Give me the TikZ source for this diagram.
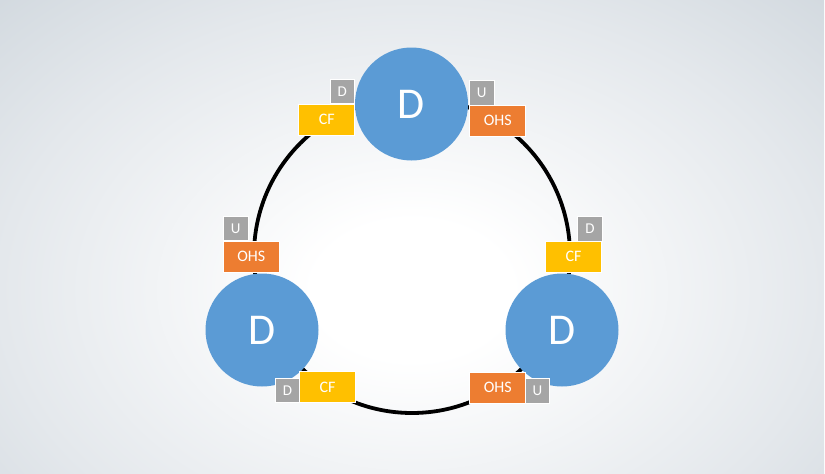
\documentclass[tikz,border=0pt]{standalone}
\usepackage{fontspec}
\setmainfont{Carlito}
\definecolor{cblue}{RGB}{91,155,213}
\definecolor{corange}{RGB}{237,125,49}
\definecolor{cyellow}{RGB}{255,192,0}
\definecolor{cgray}{RGB}{165,165,165}
\definecolor{bgmid}{RGB}{228,232,236}
\definecolor{bgedge}{RGB}{210,217,223}
\pgfdeclareradialshading{bgrad}{\pgfpoint{0bp}{0bp}}{color(0bp)=(white); color(6bp)=(white); color(25bp)=(bgmid); color(36bp)=(bgedge); color(50bp)=(bgedge)}
\tikzset{
  dnode/.style={circle, fill=cblue, minimum size=113pt, inner sep=0pt, text=white, font=\fontsize{44}{44}\selectfont},
  bigbox/.style={rectangle, draw=white, line width=1pt, minimum width=56pt, minimum height=31pt, inner sep=0pt, text=white, font=\fontsize{16}{16}\selectfont},
  cfbox/.style={bigbox, fill=cyellow},
  ohsbox/.style={bigbox, fill=corange},
  tagbox/.style={rectangle, draw=white, line width=1pt, fill=cgray, minimum width=24.5pt, minimum height=24.5pt, inner sep=0pt, text=white, font=\fontsize{15}{15}\selectfont},
  ring/.style={draw=black, line width=3.8pt},
}
\begin{document}
\begin{tikzpicture}[x=1pt,y=-1pt]
\useasboundingbox (0,0) rectangle (825,474);
\begin{scope}
  \clip (0,0) rectangle (825,474);
  \shade[shading=bgrad] (0,0) rectangle (824,580);
\end{scope}
% ring
\coordinate (rc) at (412,255);
\draw[ring] (rc) circle[radius=158];
% circles
\node[dnode] (top) at (411.5,104) {D};
\node[dnode] (bl) at (262,330) {D};
\node[dnode] (br) at (562,330) {D};
% top-left tags
\node[cfbox] (tlcf) at (326.75,119.5) {CF};
\node[tagbox] (tld) at (342.25,91.5) {D};
% top-right tags
\node[ohsbox] (trohs) at (497.75,120.5) {OHS};
\node[tagbox] (tru) at (481.75,92.75) {U};
% left tags
\node[ohsbox] (lohs) at (251.25,256.5) {OHS};
\node[tagbox] (lu) at (235.75,228.5) {U};
% right tags
\node[cfbox] (rcf) at (573.5,256.5) {CF};
\node[tagbox] (rd) at (590,228.75) {D};
% bottom-left tags
\node[cfbox] (blcf) at (327.5,387) {CF};
\node[tagbox] (bld) at (287.5,390.25) {D};
% bottom-right tags
\node[ohsbox] (brohs) at (497.75,387.5) {OHS};
\node[tagbox] (bru) at (537.5,390.75) {U};
\end{tikzpicture}
\end{document}
